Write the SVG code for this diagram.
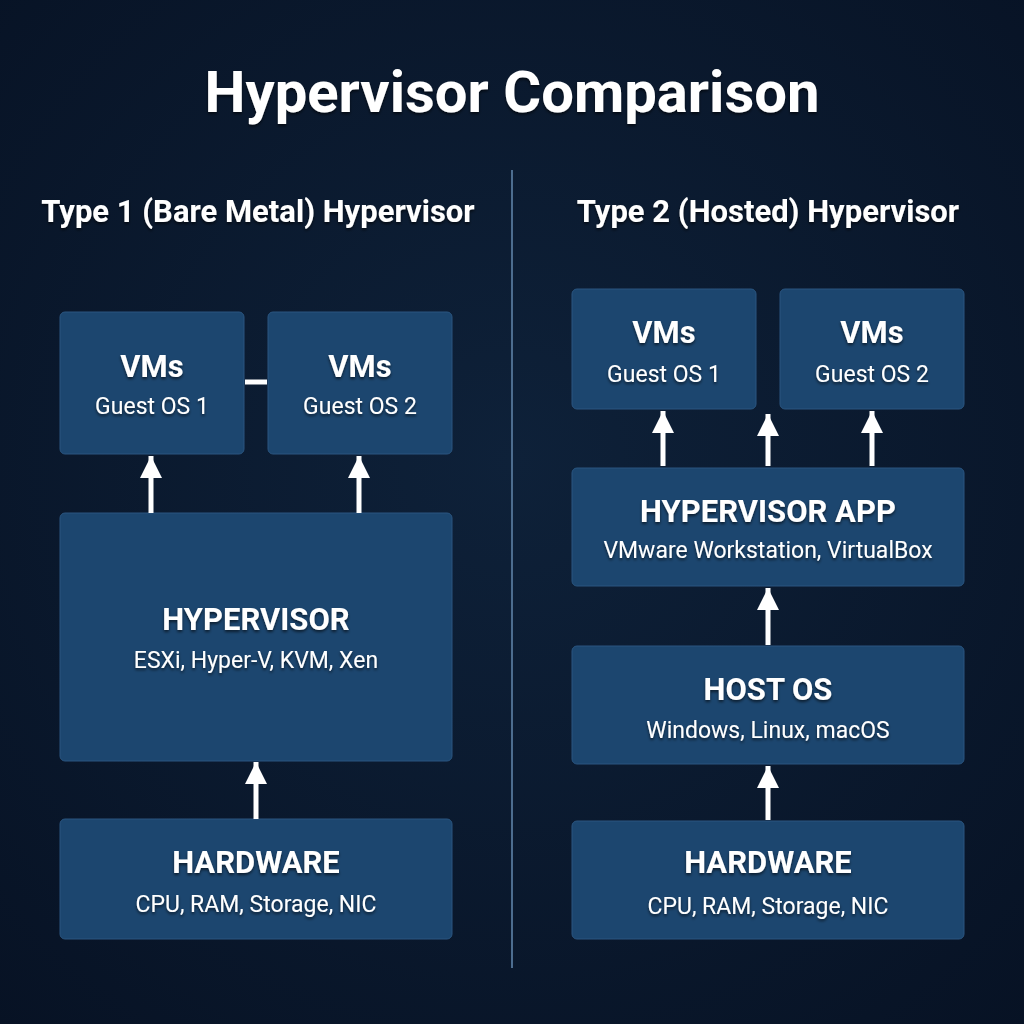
<svg xmlns="http://www.w3.org/2000/svg" width="1024" height="1024" viewBox="0 0 1024 1024">
<defs>
<radialGradient id="bg" cx="50%" cy="45%" r="75%">
<stop offset="0" stop-color="#0e2139"/>
<stop offset="1" stop-color="#071224"/>
</radialGradient>
<filter id="sh" x="-10%" y="-10%" width="120%" height="130%">
<feDropShadow dx="0" dy="2" stdDeviation="1.5" flood-color="#000" flood-opacity="0.6"/>
</filter>
<marker id="ah" viewBox="0 0 10 10" refX="10" refY="5" markerWidth="4.4" markerHeight="5" orient="auto" markerUnits="strokeWidth">
<path d="M0,0 L10,5 L0,10 Z" fill="#ffffff"/>
</marker>
<style>
.box{fill:#1c466f;stroke:#2a5580;stroke-width:1}
.t{font-family:Roboto,"Liberation Sans",sans-serif;fill:#ffffff;text-anchor:middle;filter:url(#sh)}
.h{font-weight:700;font-size:31px}
.s{font-weight:400;font-size:23px}
</style>
</defs>
<rect width="1024" height="1024" fill="url(#bg)"/>
<text class="t" x="512" y="112" font-size="58" font-weight="700">Hypervisor Comparison</text>
<text class="t" x="258" y="222" font-size="31" font-weight="700">Type 1 (Bare Metal) Hypervisor</text>
<text class="t" x="768" y="222" font-size="31" font-weight="700">Type 2 (Hosted) Hypervisor</text>
<line x1="512" y1="170" x2="512" y2="968" stroke="#4d6d8f" stroke-width="2"/>

<g id="t1-vm1"><rect class="box" x="60" y="312" width="184" height="142" rx="5"/><text class="t h" x="152" y="377">VMs</text><text class="t s" x="152" y="414">Guest OS 1</text></g>
<g id="t1-vm2"><rect class="box" x="268" y="312" width="184" height="142" rx="5"/><text class="t h" x="360" y="377">VMs</text><text class="t s" x="360" y="414">Guest OS 2</text></g>
<g id="t1-hyp"><rect class="box" x="60" y="513" width="392" height="248" rx="5"/><text class="t h" x="256" y="630">HYPERVISOR</text><text class="t s" x="256" y="668">ESXi, Hyper-V, KVM, Xen</text></g>
<g id="t1-hw"><rect class="box" x="60" y="819" width="392" height="120" rx="5"/><text class="t h" x="256" y="873">HARDWARE</text><text class="t s" x="256" y="912">CPU, RAM, Storage, NIC</text></g>

<g id="t2-vm1"><rect class="box" x="572" y="289" width="184" height="120" rx="5"/><text class="t h" x="664" y="343">VMs</text><text class="t s" x="664" y="382">Guest OS 1</text></g>
<g id="t2-vm2"><rect class="box" x="780" y="289" width="184" height="120" rx="5"/><text class="t h" x="872" y="343">VMs</text><text class="t s" x="872" y="382">Guest OS 2</text></g>
<g id="t2-app"><rect class="box" x="572" y="468" width="392" height="118" rx="5"/><text class="t h" x="768" y="522">HYPERVISOR APP</text><text class="t s" x="768" y="558">VMware Workstation, VirtualBox</text></g>
<g id="t2-os"><rect class="box" x="572" y="646" width="392" height="118" rx="5"/><text class="t h" x="768" y="700">HOST OS</text><text class="t s" x="768" y="738">Windows, Linux, macOS</text></g>
<g id="t2-hw"><rect class="box" x="572" y="821" width="392" height="118" rx="5"/><text class="t h" x="768" y="873">HARDWARE</text><text class="t s" x="768" y="914">CPU, RAM, Storage, NIC</text></g>

<g id="connectors">
<line x1="245" y1="382" x2="267" y2="382" stroke="#ffffff" stroke-width="5"/>
<g stroke="#ffffff" stroke-width="5" marker-end="url(#ah)">
<line x1="151" y1="513" x2="151" y2="456"/>
<line x1="359" y1="513" x2="359" y2="456"/>
<line x1="256" y1="819" x2="256" y2="762"/>
<line x1="663" y1="466" x2="663" y2="411"/>
<line x1="768" y1="466" x2="768" y2="414"/>
<line x1="872" y1="466" x2="872" y2="411"/>
<line x1="768" y1="645" x2="768" y2="588"/>
<line x1="768" y1="820" x2="768" y2="766"/>
</g>
</g>
</svg>
